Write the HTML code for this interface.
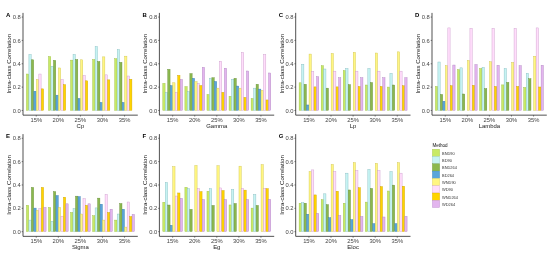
<!DOCTYPE html>
<html><head><meta charset="utf-8"><title>Intra-class Correlation</title>
<style>html,body{margin:0;padding:0;background:#fff}svg{display:block}text{font-family:"Liberation Sans",sans-serif}</style></head><body>
<svg width="550" height="254" viewBox="0 0 550 254">
<rect width="550" height="254" fill="#fff"/>
<g id="panelA">
<rect x="26.41" y="74.03" width="2.28" height="36.25" fill="#C8EA66" stroke="#9CBE44" stroke-width="0.42"/>
<rect x="28.90" y="54.53" width="2.28" height="55.75" fill="#C6F3F3" stroke="#84BCC0" stroke-width="0.42"/>
<rect x="31.38" y="59.79" width="2.28" height="50.49" fill="#8BB84E" stroke="#668F36" stroke-width="0.42"/>
<rect x="33.86" y="91.20" width="2.28" height="19.08" fill="#5AA6DA" stroke="#3A7EB2" stroke-width="0.42"/>
<rect x="36.35" y="79.52" width="2.28" height="30.76" fill="#FFF682" stroke="#CFC450" stroke-width="0.42"/>
<rect x="38.83" y="74.03" width="2.28" height="36.25" fill="#FFDDFB" stroke="#CC9CCB" stroke-width="0.42"/>
<rect x="41.31" y="88.86" width="2.28" height="21.42" fill="#FFD400" stroke="#CFA400" stroke-width="0.42"/>
<rect x="48.49" y="56.52" width="2.28" height="53.76" fill="#C8EA66" stroke="#9CBE44" stroke-width="0.42"/>
<rect x="50.97" y="66.21" width="2.28" height="44.07" fill="#C6F3F3" stroke="#84BCC0" stroke-width="0.42"/>
<rect x="53.46" y="60.37" width="2.28" height="49.91" fill="#8BB84E" stroke="#668F36" stroke-width="0.42"/>
<rect x="55.94" y="95.17" width="2.28" height="15.11" fill="#5AA6DA" stroke="#3A7EB2" stroke-width="0.42"/>
<rect x="58.42" y="67.96" width="2.28" height="42.32" fill="#FFF682" stroke="#CFC450" stroke-width="0.42"/>
<rect x="60.91" y="79.52" width="2.28" height="30.76" fill="#FFDDFB" stroke="#CC9CCB" stroke-width="0.42"/>
<rect x="63.39" y="84.66" width="2.28" height="25.62" fill="#FFD400" stroke="#CFA400" stroke-width="0.42"/>
<rect x="70.57" y="60.14" width="2.28" height="50.14" fill="#C8EA66" stroke="#9CBE44" stroke-width="0.42"/>
<rect x="73.05" y="54.53" width="2.28" height="55.75" fill="#C6F3F3" stroke="#84BCC0" stroke-width="0.42"/>
<rect x="75.53" y="59.55" width="2.28" height="50.72" fill="#8BB84E" stroke="#668F36" stroke-width="0.42"/>
<rect x="78.02" y="98.44" width="2.28" height="11.84" fill="#5AA6DA" stroke="#3A7EB2" stroke-width="0.42"/>
<rect x="80.50" y="59.79" width="2.28" height="50.49" fill="#FFF682" stroke="#CFC450" stroke-width="0.42"/>
<rect x="82.98" y="75.55" width="2.28" height="34.73" fill="#FFDDFB" stroke="#CC9CCB" stroke-width="0.42"/>
<rect x="85.47" y="80.81" width="2.28" height="29.47" fill="#FFD400" stroke="#CFA400" stroke-width="0.42"/>
<rect x="92.64" y="59.55" width="2.28" height="50.72" fill="#C8EA66" stroke="#9CBE44" stroke-width="0.42"/>
<rect x="95.13" y="46.59" width="2.28" height="63.69" fill="#C6F3F3" stroke="#84BCC0" stroke-width="0.42"/>
<rect x="97.61" y="61.54" width="2.28" height="48.74" fill="#8BB84E" stroke="#668F36" stroke-width="0.42"/>
<rect x="100.09" y="102.41" width="2.28" height="7.87" fill="#5AA6DA" stroke="#3A7EB2" stroke-width="0.42"/>
<rect x="102.58" y="56.87" width="2.28" height="53.41" fill="#FFF682" stroke="#CFC450" stroke-width="0.42"/>
<rect x="105.06" y="74.85" width="2.28" height="35.43" fill="#FFDDFB" stroke="#CC9CCB" stroke-width="0.42"/>
<rect x="107.54" y="79.87" width="2.28" height="30.41" fill="#FFD400" stroke="#CFA400" stroke-width="0.42"/>
<rect x="114.72" y="58.74" width="2.28" height="51.54" fill="#C8EA66" stroke="#9CBE44" stroke-width="0.42"/>
<rect x="117.20" y="49.63" width="2.28" height="60.65" fill="#C6F3F3" stroke="#84BCC0" stroke-width="0.42"/>
<rect x="119.69" y="62.36" width="2.28" height="47.92" fill="#8BB84E" stroke="#668F36" stroke-width="0.42"/>
<rect x="122.17" y="102.41" width="2.28" height="7.87" fill="#5AA6DA" stroke="#3A7EB2" stroke-width="0.42"/>
<rect x="124.65" y="56.17" width="2.28" height="54.11" fill="#FFF682" stroke="#CFC450" stroke-width="0.42"/>
<rect x="127.14" y="76.02" width="2.28" height="34.26" fill="#FFDDFB" stroke="#CC9CCB" stroke-width="0.42"/>
<rect x="129.62" y="79.29" width="2.28" height="30.99" fill="#FFD400" stroke="#CFA400" stroke-width="0.42"/>
<path d="M23.00 12.90V115.15H137.80" fill="none" stroke="#333" stroke-width="0.85" stroke-linejoin="miter"/>
<path d="M21.70 110.48H23.00M21.70 87.13H23.00M21.70 63.77H23.00M21.70 40.42H23.00M21.70 17.07H23.00M36.25 115.15V116.55M58.32 115.15V116.55M80.40 115.15V116.55M102.48 115.15V116.55M124.55 115.15V116.55" stroke="#333" stroke-width="0.6" fill="none"/>
<text x="20.80" y="112.57" font-size="5.8" text-anchor="end" fill="#444">0.0</text>
<text x="20.80" y="89.22" font-size="5.8" text-anchor="end" fill="#444">0.2</text>
<text x="20.80" y="65.86" font-size="5.8" text-anchor="end" fill="#444">0.4</text>
<text x="20.80" y="42.51" font-size="5.8" text-anchor="end" fill="#444">0.6</text>
<text x="20.80" y="19.16" font-size="5.8" text-anchor="end" fill="#444">0.8</text>
<text x="36.25" y="121.60" font-size="5.8" text-anchor="middle" fill="#444">15%</text>
<text x="58.32" y="121.60" font-size="5.8" text-anchor="middle" fill="#444">20%</text>
<text x="80.40" y="121.60" font-size="5.8" text-anchor="middle" fill="#444">25%</text>
<text x="102.48" y="121.60" font-size="5.8" text-anchor="middle" fill="#444">30%</text>
<text x="124.55" y="121.60" font-size="5.8" text-anchor="middle" fill="#444">35%</text>
<text x="80.40" y="127.85" font-size="5.95" text-anchor="middle" fill="#222">Cp</text>
<text transform="translate(10.85 63.78) rotate(-90)" font-size="6.1" text-anchor="middle" fill="#222">Intra-class Correlation</text>
<text x="6.10" y="16.60" font-size="6.0" font-weight="bold" fill="#000">A</text>
</g>
<g id="panelB">
<rect x="162.81" y="83.37" width="2.28" height="26.91" fill="#C8EA66" stroke="#9CBE44" stroke-width="0.42"/>
<rect x="165.30" y="92.48" width="2.28" height="17.80" fill="#C6F3F3" stroke="#84BCC0" stroke-width="0.42"/>
<rect x="167.78" y="69.36" width="2.28" height="40.92" fill="#8BB84E" stroke="#668F36" stroke-width="0.42"/>
<rect x="170.26" y="85.59" width="2.28" height="24.69" fill="#5AA6DA" stroke="#3A7EB2" stroke-width="0.42"/>
<rect x="172.75" y="82.79" width="2.28" height="27.49" fill="#FFF682" stroke="#CFC450" stroke-width="0.42"/>
<rect x="175.23" y="92.48" width="2.28" height="17.80" fill="#FFDDFB" stroke="#CC9CCB" stroke-width="0.42"/>
<rect x="177.71" y="75.38" width="2.28" height="34.90" fill="#FFD400" stroke="#CFA400" stroke-width="0.42"/>
<rect x="180.20" y="79.52" width="2.28" height="30.76" fill="#E3B5EF" stroke="#B084C0" stroke-width="0.42"/>
<rect x="184.89" y="86.64" width="2.28" height="23.64" fill="#C8EA66" stroke="#9CBE44" stroke-width="0.42"/>
<rect x="187.37" y="91.66" width="2.28" height="18.62" fill="#C6F3F3" stroke="#84BCC0" stroke-width="0.42"/>
<rect x="189.86" y="73.62" width="2.28" height="36.65" fill="#8BB84E" stroke="#668F36" stroke-width="0.42"/>
<rect x="192.34" y="78.35" width="2.28" height="31.93" fill="#5AA6DA" stroke="#3A7EB2" stroke-width="0.42"/>
<rect x="194.82" y="81.68" width="2.28" height="28.60" fill="#FFF682" stroke="#CFC450" stroke-width="0.42"/>
<rect x="197.31" y="83.37" width="2.28" height="26.91" fill="#FFDDFB" stroke="#CC9CCB" stroke-width="0.42"/>
<rect x="199.79" y="85.53" width="2.28" height="24.75" fill="#FFD400" stroke="#CFA400" stroke-width="0.42"/>
<rect x="202.27" y="67.38" width="2.28" height="42.90" fill="#E3B5EF" stroke="#B084C0" stroke-width="0.42"/>
<rect x="206.97" y="94.52" width="2.28" height="15.75" fill="#C8EA66" stroke="#9CBE44" stroke-width="0.42"/>
<rect x="209.45" y="78.18" width="2.28" height="32.10" fill="#C6F3F3" stroke="#84BCC0" stroke-width="0.42"/>
<rect x="211.93" y="77.77" width="2.28" height="32.51" fill="#8BB84E" stroke="#668F36" stroke-width="0.42"/>
<rect x="214.42" y="81.51" width="2.28" height="28.77" fill="#5AA6DA" stroke="#3A7EB2" stroke-width="0.42"/>
<rect x="216.90" y="88.16" width="2.28" height="22.12" fill="#FFF682" stroke="#CFC450" stroke-width="0.42"/>
<rect x="219.38" y="61.19" width="2.28" height="49.09" fill="#FFDDFB" stroke="#CC9CCB" stroke-width="0.42"/>
<rect x="221.87" y="92.36" width="2.28" height="17.91" fill="#FFD400" stroke="#CFA400" stroke-width="0.42"/>
<rect x="224.35" y="68.20" width="2.28" height="42.08" fill="#E3B5EF" stroke="#B084C0" stroke-width="0.42"/>
<rect x="229.04" y="96.28" width="2.28" height="14.00" fill="#C8EA66" stroke="#9CBE44" stroke-width="0.42"/>
<rect x="231.53" y="79.29" width="2.28" height="30.99" fill="#C6F3F3" stroke="#84BCC0" stroke-width="0.42"/>
<rect x="234.01" y="78.35" width="2.28" height="31.93" fill="#8BB84E" stroke="#668F36" stroke-width="0.42"/>
<rect x="236.49" y="86.06" width="2.28" height="24.22" fill="#5AA6DA" stroke="#3A7EB2" stroke-width="0.42"/>
<rect x="238.98" y="88.16" width="2.28" height="22.12" fill="#FFF682" stroke="#CFC450" stroke-width="0.42"/>
<rect x="241.46" y="52.48" width="2.28" height="57.80" fill="#FFDDFB" stroke="#CC9CCB" stroke-width="0.42"/>
<rect x="243.94" y="97.39" width="2.28" height="12.89" fill="#FFD400" stroke="#CFA400" stroke-width="0.42"/>
<rect x="246.43" y="71.00" width="2.28" height="39.28" fill="#E3B5EF" stroke="#B084C0" stroke-width="0.42"/>
<rect x="251.12" y="98.48" width="2.28" height="11.80" fill="#C8EA66" stroke="#9CBE44" stroke-width="0.42"/>
<rect x="253.60" y="88.16" width="2.28" height="22.12" fill="#C6F3F3" stroke="#84BCC0" stroke-width="0.42"/>
<rect x="256.09" y="84.31" width="2.28" height="25.97" fill="#8BB84E" stroke="#668F36" stroke-width="0.42"/>
<rect x="258.57" y="89.10" width="2.28" height="21.18" fill="#5AA6DA" stroke="#3A7EB2" stroke-width="0.42"/>
<rect x="261.05" y="90.38" width="2.28" height="19.90" fill="#FFF682" stroke="#CFC450" stroke-width="0.42"/>
<rect x="263.54" y="54.65" width="2.28" height="55.63" fill="#FFDDFB" stroke="#CC9CCB" stroke-width="0.42"/>
<rect x="266.02" y="99.95" width="2.28" height="10.33" fill="#FFD400" stroke="#CFA400" stroke-width="0.42"/>
<rect x="268.50" y="72.98" width="2.28" height="37.30" fill="#E3B5EF" stroke="#B084C0" stroke-width="0.42"/>
<path d="M159.40 12.90V115.15H274.20" fill="none" stroke="#333" stroke-width="0.85" stroke-linejoin="miter"/>
<path d="M158.10 110.48H159.40M158.10 87.13H159.40M158.10 63.77H159.40M158.10 40.42H159.40M158.10 17.07H159.40M172.65 115.15V116.55M194.72 115.15V116.55M216.80 115.15V116.55M238.88 115.15V116.55M260.95 115.15V116.55" stroke="#333" stroke-width="0.6" fill="none"/>
<text x="157.20" y="112.57" font-size="5.8" text-anchor="end" fill="#444">0.0</text>
<text x="157.20" y="89.22" font-size="5.8" text-anchor="end" fill="#444">0.2</text>
<text x="157.20" y="65.86" font-size="5.8" text-anchor="end" fill="#444">0.4</text>
<text x="157.20" y="42.51" font-size="5.8" text-anchor="end" fill="#444">0.6</text>
<text x="157.20" y="19.16" font-size="5.8" text-anchor="end" fill="#444">0.8</text>
<text x="172.65" y="121.60" font-size="5.8" text-anchor="middle" fill="#444">15%</text>
<text x="194.72" y="121.60" font-size="5.8" text-anchor="middle" fill="#444">20%</text>
<text x="216.80" y="121.60" font-size="5.8" text-anchor="middle" fill="#444">25%</text>
<text x="238.88" y="121.60" font-size="5.8" text-anchor="middle" fill="#444">30%</text>
<text x="260.95" y="121.60" font-size="5.8" text-anchor="middle" fill="#444">35%</text>
<text x="216.80" y="127.85" font-size="5.95" text-anchor="middle" fill="#222">Gamma</text>
<text transform="translate(147.25 63.78) rotate(-90)" font-size="6.1" text-anchor="middle" fill="#222">Intra-class Correlation</text>
<text x="142.50" y="16.60" font-size="6.0" font-weight="bold" fill="#000">B</text>
</g>
<g id="panelC">
<rect x="299.11" y="82.79" width="2.28" height="27.49" fill="#C8EA66" stroke="#9CBE44" stroke-width="0.42"/>
<rect x="301.60" y="64.23" width="2.28" height="46.05" fill="#C6F3F3" stroke="#84BCC0" stroke-width="0.42"/>
<rect x="304.08" y="84.31" width="2.28" height="25.97" fill="#8BB84E" stroke="#668F36" stroke-width="0.42"/>
<rect x="306.56" y="104.97" width="2.28" height="5.30" fill="#5AA6DA" stroke="#3A7EB2" stroke-width="0.42"/>
<rect x="309.05" y="54.07" width="2.28" height="56.21" fill="#FFF682" stroke="#CFC450" stroke-width="0.42"/>
<rect x="311.53" y="71.58" width="2.28" height="38.70" fill="#FFDDFB" stroke="#CC9CCB" stroke-width="0.42"/>
<rect x="314.01" y="86.88" width="2.28" height="23.40" fill="#FFD400" stroke="#CFA400" stroke-width="0.42"/>
<rect x="316.50" y="76.72" width="2.28" height="33.56" fill="#E3B5EF" stroke="#B084C0" stroke-width="0.42"/>
<rect x="321.19" y="65.74" width="2.28" height="44.54" fill="#C8EA66" stroke="#9CBE44" stroke-width="0.42"/>
<rect x="323.67" y="69.01" width="2.28" height="41.27" fill="#C6F3F3" stroke="#84BCC0" stroke-width="0.42"/>
<rect x="326.16" y="88.16" width="2.28" height="22.12" fill="#8BB84E" stroke="#668F36" stroke-width="0.42"/>
<rect x="331.12" y="53.48" width="2.28" height="56.80" fill="#FFF682" stroke="#CFC450" stroke-width="0.42"/>
<rect x="333.61" y="71.17" width="2.28" height="39.11" fill="#FFDDFB" stroke="#CC9CCB" stroke-width="0.42"/>
<rect x="336.09" y="86.88" width="2.28" height="23.40" fill="#FFD400" stroke="#CFA400" stroke-width="0.42"/>
<rect x="338.57" y="77.77" width="2.28" height="32.51" fill="#E3B5EF" stroke="#B084C0" stroke-width="0.42"/>
<rect x="343.27" y="70.58" width="2.28" height="39.70" fill="#C8EA66" stroke="#9CBE44" stroke-width="0.42"/>
<rect x="345.75" y="68.55" width="2.28" height="41.73" fill="#C6F3F3" stroke="#84BCC0" stroke-width="0.42"/>
<rect x="348.23" y="84.66" width="2.28" height="25.62" fill="#8BB84E" stroke="#668F36" stroke-width="0.42"/>
<rect x="353.20" y="52.37" width="2.28" height="57.91" fill="#FFF682" stroke="#CFC450" stroke-width="0.42"/>
<rect x="355.68" y="71.17" width="2.28" height="39.11" fill="#FFDDFB" stroke="#CC9CCB" stroke-width="0.42"/>
<rect x="358.17" y="86.48" width="2.28" height="23.80" fill="#FFD400" stroke="#CFA400" stroke-width="0.42"/>
<rect x="360.65" y="77.77" width="2.28" height="32.51" fill="#E3B5EF" stroke="#B084C0" stroke-width="0.42"/>
<rect x="365.34" y="85.01" width="2.28" height="25.27" fill="#C8EA66" stroke="#9CBE44" stroke-width="0.42"/>
<rect x="367.83" y="68.55" width="2.28" height="41.73" fill="#C6F3F3" stroke="#84BCC0" stroke-width="0.42"/>
<rect x="370.31" y="82.56" width="2.28" height="27.72" fill="#8BB84E" stroke="#668F36" stroke-width="0.42"/>
<rect x="375.28" y="53.02" width="2.28" height="57.26" fill="#FFF682" stroke="#CFC450" stroke-width="0.42"/>
<rect x="377.76" y="71.17" width="2.28" height="39.11" fill="#FFDDFB" stroke="#CC9CCB" stroke-width="0.42"/>
<rect x="380.24" y="86.48" width="2.28" height="23.80" fill="#FFD400" stroke="#CFA400" stroke-width="0.42"/>
<rect x="382.73" y="77.77" width="2.28" height="32.51" fill="#E3B5EF" stroke="#B084C0" stroke-width="0.42"/>
<rect x="387.42" y="87.08" width="2.28" height="23.20" fill="#C8EA66" stroke="#9CBE44" stroke-width="0.42"/>
<rect x="389.90" y="73.38" width="2.28" height="36.90" fill="#C6F3F3" stroke="#84BCC0" stroke-width="0.42"/>
<rect x="392.39" y="85.01" width="2.28" height="25.27" fill="#8BB84E" stroke="#668F36" stroke-width="0.42"/>
<rect x="397.35" y="51.85" width="2.28" height="58.43" fill="#FFF682" stroke="#CFC450" stroke-width="0.42"/>
<rect x="399.84" y="71.17" width="2.28" height="39.11" fill="#FFDDFB" stroke="#CC9CCB" stroke-width="0.42"/>
<rect x="402.32" y="85.78" width="2.28" height="24.50" fill="#FFD400" stroke="#CFA400" stroke-width="0.42"/>
<rect x="404.80" y="77.77" width="2.28" height="32.51" fill="#E3B5EF" stroke="#B084C0" stroke-width="0.42"/>
<path d="M295.70 12.90V115.15H410.50" fill="none" stroke="#333" stroke-width="0.85" stroke-linejoin="miter"/>
<path d="M294.40 110.48H295.70M294.40 87.13H295.70M294.40 63.77H295.70M294.40 40.42H295.70M294.40 17.07H295.70M308.95 115.15V116.55M331.02 115.15V116.55M353.10 115.15V116.55M375.18 115.15V116.55M397.25 115.15V116.55" stroke="#333" stroke-width="0.6" fill="none"/>
<text x="293.50" y="112.57" font-size="5.8" text-anchor="end" fill="#444">0.0</text>
<text x="293.50" y="89.22" font-size="5.8" text-anchor="end" fill="#444">0.2</text>
<text x="293.50" y="65.86" font-size="5.8" text-anchor="end" fill="#444">0.4</text>
<text x="293.50" y="42.51" font-size="5.8" text-anchor="end" fill="#444">0.6</text>
<text x="293.50" y="19.16" font-size="5.8" text-anchor="end" fill="#444">0.8</text>
<text x="308.95" y="121.60" font-size="5.8" text-anchor="middle" fill="#444">15%</text>
<text x="331.02" y="121.60" font-size="5.8" text-anchor="middle" fill="#444">20%</text>
<text x="353.10" y="121.60" font-size="5.8" text-anchor="middle" fill="#444">25%</text>
<text x="375.18" y="121.60" font-size="5.8" text-anchor="middle" fill="#444">30%</text>
<text x="397.25" y="121.60" font-size="5.8" text-anchor="middle" fill="#444">35%</text>
<text x="353.10" y="127.85" font-size="5.95" text-anchor="middle" fill="#222">Lp</text>
<text transform="translate(283.55 63.78) rotate(-90)" font-size="6.1" text-anchor="middle" fill="#222">Intra-class Correlation</text>
<text x="278.80" y="16.60" font-size="6.0" font-weight="bold" fill="#000">C</text>
</g>
<g id="panelD">
<rect x="435.41" y="86.41" width="2.28" height="23.87" fill="#C8EA66" stroke="#9CBE44" stroke-width="0.42"/>
<rect x="437.90" y="62.01" width="2.28" height="48.27" fill="#C6F3F3" stroke="#84BCC0" stroke-width="0.42"/>
<rect x="440.38" y="94.47" width="2.28" height="15.81" fill="#8BB84E" stroke="#668F36" stroke-width="0.42"/>
<rect x="442.86" y="101.24" width="2.28" height="9.04" fill="#5AA6DA" stroke="#3A7EB2" stroke-width="0.42"/>
<rect x="445.35" y="65.68" width="2.28" height="44.59" fill="#FFF682" stroke="#CFC450" stroke-width="0.42"/>
<rect x="447.83" y="27.91" width="2.28" height="82.37" fill="#FFDDFB" stroke="#CC9CCB" stroke-width="0.42"/>
<rect x="450.31" y="85.71" width="2.28" height="24.57" fill="#FFD400" stroke="#CFA400" stroke-width="0.42"/>
<rect x="452.80" y="65.04" width="2.28" height="45.24" fill="#E3B5EF" stroke="#B084C0" stroke-width="0.42"/>
<rect x="457.49" y="69.60" width="2.28" height="40.68" fill="#C8EA66" stroke="#9CBE44" stroke-width="0.42"/>
<rect x="459.97" y="67.84" width="2.28" height="42.43" fill="#C6F3F3" stroke="#84BCC0" stroke-width="0.42"/>
<rect x="462.46" y="94.00" width="2.28" height="16.28" fill="#8BB84E" stroke="#668F36" stroke-width="0.42"/>
<rect x="467.42" y="60.44" width="2.28" height="49.84" fill="#FFF682" stroke="#CFC450" stroke-width="0.42"/>
<rect x="469.91" y="28.38" width="2.28" height="81.90" fill="#FFDDFB" stroke="#CC9CCB" stroke-width="0.42"/>
<rect x="472.39" y="85.31" width="2.28" height="24.97" fill="#FFD400" stroke="#CFA400" stroke-width="0.42"/>
<rect x="474.87" y="64.63" width="2.28" height="45.65" fill="#E3B5EF" stroke="#B084C0" stroke-width="0.42"/>
<rect x="479.57" y="68.55" width="2.28" height="41.73" fill="#C8EA66" stroke="#9CBE44" stroke-width="0.42"/>
<rect x="482.05" y="67.44" width="2.28" height="42.84" fill="#C6F3F3" stroke="#84BCC0" stroke-width="0.42"/>
<rect x="484.53" y="88.63" width="2.28" height="21.65" fill="#8BB84E" stroke="#668F36" stroke-width="0.42"/>
<rect x="489.50" y="61.77" width="2.28" height="48.51" fill="#FFF682" stroke="#CFC450" stroke-width="0.42"/>
<rect x="491.98" y="28.38" width="2.28" height="81.90" fill="#FFDDFB" stroke="#CC9CCB" stroke-width="0.42"/>
<rect x="494.47" y="86.41" width="2.28" height="23.87" fill="#FFD400" stroke="#CFA400" stroke-width="0.42"/>
<rect x="496.95" y="65.28" width="2.28" height="45.00" fill="#E3B5EF" stroke="#B084C0" stroke-width="0.42"/>
<rect x="501.64" y="84.89" width="2.28" height="25.39" fill="#C8EA66" stroke="#9CBE44" stroke-width="0.42"/>
<rect x="504.13" y="68.55" width="2.28" height="41.73" fill="#C6F3F3" stroke="#84BCC0" stroke-width="0.42"/>
<rect x="506.61" y="82.44" width="2.28" height="27.84" fill="#8BB84E" stroke="#668F36" stroke-width="0.42"/>
<rect x="511.58" y="62.47" width="2.28" height="47.81" fill="#FFF682" stroke="#CFC450" stroke-width="0.42"/>
<rect x="514.06" y="28.38" width="2.28" height="81.90" fill="#FFDDFB" stroke="#CC9CCB" stroke-width="0.42"/>
<rect x="516.54" y="86.41" width="2.28" height="23.87" fill="#FFD400" stroke="#CFA400" stroke-width="0.42"/>
<rect x="519.03" y="65.68" width="2.28" height="44.59" fill="#E3B5EF" stroke="#B084C0" stroke-width="0.42"/>
<rect x="523.72" y="87.51" width="2.28" height="22.77" fill="#C8EA66" stroke="#9CBE44" stroke-width="0.42"/>
<rect x="526.20" y="73.33" width="2.28" height="36.95" fill="#C6F3F3" stroke="#84BCC0" stroke-width="0.42"/>
<rect x="528.69" y="78.77" width="2.28" height="31.51" fill="#8BB84E" stroke="#668F36" stroke-width="0.42"/>
<rect x="533.65" y="56.29" width="2.28" height="53.99" fill="#FFF682" stroke="#CFC450" stroke-width="0.42"/>
<rect x="536.14" y="27.91" width="2.28" height="82.37" fill="#FFDDFB" stroke="#CC9CCB" stroke-width="0.42"/>
<rect x="538.62" y="86.99" width="2.28" height="23.29" fill="#FFD400" stroke="#CFA400" stroke-width="0.42"/>
<rect x="541.10" y="65.28" width="2.28" height="45.00" fill="#E3B5EF" stroke="#B084C0" stroke-width="0.42"/>
<path d="M432.00 12.90V115.15H546.80" fill="none" stroke="#333" stroke-width="0.85" stroke-linejoin="miter"/>
<path d="M430.70 110.48H432.00M430.70 87.13H432.00M430.70 63.77H432.00M430.70 40.42H432.00M430.70 17.07H432.00M445.25 115.15V116.55M467.32 115.15V116.55M489.40 115.15V116.55M511.48 115.15V116.55M533.55 115.15V116.55" stroke="#333" stroke-width="0.6" fill="none"/>
<text x="429.80" y="112.57" font-size="5.8" text-anchor="end" fill="#444">0.0</text>
<text x="429.80" y="89.22" font-size="5.8" text-anchor="end" fill="#444">0.2</text>
<text x="429.80" y="65.86" font-size="5.8" text-anchor="end" fill="#444">0.4</text>
<text x="429.80" y="42.51" font-size="5.8" text-anchor="end" fill="#444">0.6</text>
<text x="429.80" y="19.16" font-size="5.8" text-anchor="end" fill="#444">0.8</text>
<text x="445.25" y="121.60" font-size="5.8" text-anchor="middle" fill="#444">15%</text>
<text x="467.32" y="121.60" font-size="5.8" text-anchor="middle" fill="#444">20%</text>
<text x="489.40" y="121.60" font-size="5.8" text-anchor="middle" fill="#444">25%</text>
<text x="511.48" y="121.60" font-size="5.8" text-anchor="middle" fill="#444">30%</text>
<text x="533.55" y="121.60" font-size="5.8" text-anchor="middle" fill="#444">35%</text>
<text x="489.40" y="127.85" font-size="5.95" text-anchor="middle" fill="#222">Lambda</text>
<text transform="translate(419.85 63.78) rotate(-90)" font-size="6.1" text-anchor="middle" fill="#222">Intra-class Correlation</text>
<text x="415.10" y="16.60" font-size="6.0" font-weight="bold" fill="#000">D</text>
</g>
<g id="panelE">
<rect x="26.41" y="205.31" width="2.28" height="26.17" fill="#C8EA66" stroke="#9CBE44" stroke-width="0.42"/>
<rect x="28.90" y="220.10" width="2.28" height="11.38" fill="#C6F3F3" stroke="#84BCC0" stroke-width="0.42"/>
<rect x="31.38" y="187.41" width="2.28" height="44.07" fill="#8BB84E" stroke="#668F36" stroke-width="0.42"/>
<rect x="33.86" y="208.11" width="2.28" height="23.37" fill="#5AA6DA" stroke="#3A7EB2" stroke-width="0.42"/>
<rect x="36.35" y="210.30" width="2.28" height="21.18" fill="#FFF682" stroke="#CFC450" stroke-width="0.42"/>
<rect x="38.83" y="208.66" width="2.28" height="22.82" fill="#FFDDFB" stroke="#CC9CCB" stroke-width="0.42"/>
<rect x="41.31" y="187.41" width="2.28" height="44.07" fill="#FFD400" stroke="#CFA400" stroke-width="0.42"/>
<rect x="43.80" y="207.49" width="2.28" height="23.99" fill="#E3B5EF" stroke="#B084C0" stroke-width="0.42"/>
<rect x="48.49" y="207.49" width="2.28" height="23.99" fill="#C8EA66" stroke="#9CBE44" stroke-width="0.42"/>
<rect x="50.97" y="221.19" width="2.28" height="10.29" fill="#C6F3F3" stroke="#84BCC0" stroke-width="0.42"/>
<rect x="53.46" y="191.61" width="2.28" height="39.87" fill="#8BB84E" stroke="#668F36" stroke-width="0.42"/>
<rect x="55.94" y="195.53" width="2.28" height="35.95" fill="#5AA6DA" stroke="#3A7EB2" stroke-width="0.42"/>
<rect x="58.42" y="207.49" width="2.28" height="23.99" fill="#FFF682" stroke="#CFC450" stroke-width="0.42"/>
<rect x="60.91" y="216.20" width="2.28" height="15.28" fill="#FFDDFB" stroke="#CC9CCB" stroke-width="0.42"/>
<rect x="63.39" y="197.22" width="2.28" height="34.26" fill="#FFD400" stroke="#CFA400" stroke-width="0.42"/>
<rect x="65.87" y="203.82" width="2.28" height="27.66" fill="#E3B5EF" stroke="#B084C0" stroke-width="0.42"/>
<rect x="70.57" y="212.51" width="2.28" height="18.97" fill="#C8EA66" stroke="#9CBE44" stroke-width="0.42"/>
<rect x="73.05" y="208.66" width="2.28" height="22.82" fill="#C6F3F3" stroke="#84BCC0" stroke-width="0.42"/>
<rect x="75.53" y="196.17" width="2.28" height="35.31" fill="#8BB84E" stroke="#668F36" stroke-width="0.42"/>
<rect x="78.02" y="196.63" width="2.28" height="34.85" fill="#5AA6DA" stroke="#3A7EB2" stroke-width="0.42"/>
<rect x="80.50" y="214.03" width="2.28" height="17.45" fill="#FFF682" stroke="#CFC450" stroke-width="0.42"/>
<rect x="82.98" y="198.77" width="2.28" height="32.71" fill="#FFDDFB" stroke="#CC9CCB" stroke-width="0.42"/>
<rect x="85.47" y="205.31" width="2.28" height="26.17" fill="#FFD400" stroke="#CFA400" stroke-width="0.42"/>
<rect x="87.95" y="203.82" width="2.28" height="27.66" fill="#E3B5EF" stroke="#B084C0" stroke-width="0.42"/>
<rect x="92.64" y="215.78" width="2.28" height="15.70" fill="#C8EA66" stroke="#9CBE44" stroke-width="0.42"/>
<rect x="95.13" y="207.91" width="2.28" height="23.57" fill="#C6F3F3" stroke="#84BCC0" stroke-width="0.42"/>
<rect x="97.61" y="198.15" width="2.28" height="33.33" fill="#8BB84E" stroke="#668F36" stroke-width="0.42"/>
<rect x="100.09" y="204.22" width="2.28" height="27.26" fill="#5AA6DA" stroke="#3A7EB2" stroke-width="0.42"/>
<rect x="102.58" y="220.10" width="2.28" height="11.38" fill="#FFF682" stroke="#CFC450" stroke-width="0.42"/>
<rect x="105.06" y="194.42" width="2.28" height="37.06" fill="#FFDDFB" stroke="#CC9CCB" stroke-width="0.42"/>
<rect x="107.54" y="212.51" width="2.28" height="18.97" fill="#FFD400" stroke="#CFA400" stroke-width="0.42"/>
<rect x="110.03" y="209.24" width="2.28" height="22.23" fill="#E3B5EF" stroke="#B084C0" stroke-width="0.42"/>
<rect x="114.72" y="220.10" width="2.28" height="11.38" fill="#C8EA66" stroke="#9CBE44" stroke-width="0.42"/>
<rect x="117.20" y="214.03" width="2.28" height="17.45" fill="#C6F3F3" stroke="#84BCC0" stroke-width="0.42"/>
<rect x="119.69" y="203.56" width="2.28" height="27.92" fill="#8BB84E" stroke="#668F36" stroke-width="0.42"/>
<rect x="122.17" y="209.24" width="2.28" height="22.23" fill="#5AA6DA" stroke="#3A7EB2" stroke-width="0.42"/>
<rect x="124.65" y="227.11" width="2.28" height="4.37" fill="#FFF682" stroke="#CFC450" stroke-width="0.42"/>
<rect x="127.14" y="202.01" width="2.28" height="29.47" fill="#FFDDFB" stroke="#CC9CCB" stroke-width="0.42"/>
<rect x="129.62" y="216.60" width="2.28" height="14.88" fill="#FFD400" stroke="#CFA400" stroke-width="0.42"/>
<rect x="132.10" y="214.50" width="2.28" height="16.98" fill="#E3B5EF" stroke="#B084C0" stroke-width="0.42"/>
<path d="M23.00 134.10V236.35H137.80" fill="none" stroke="#333" stroke-width="0.85" stroke-linejoin="miter"/>
<path d="M21.70 231.68H23.00M21.70 208.33H23.00M21.70 184.97H23.00M21.70 161.62H23.00M21.70 138.27H23.00M36.25 236.35V237.75M58.32 236.35V237.75M80.40 236.35V237.75M102.48 236.35V237.75M124.55 236.35V237.75" stroke="#333" stroke-width="0.6" fill="none"/>
<text x="20.80" y="233.77" font-size="5.8" text-anchor="end" fill="#444">0.0</text>
<text x="20.80" y="210.42" font-size="5.8" text-anchor="end" fill="#444">0.2</text>
<text x="20.80" y="187.06" font-size="5.8" text-anchor="end" fill="#444">0.4</text>
<text x="20.80" y="163.71" font-size="5.8" text-anchor="end" fill="#444">0.6</text>
<text x="20.80" y="140.36" font-size="5.8" text-anchor="end" fill="#444">0.8</text>
<text x="36.25" y="242.80" font-size="5.8" text-anchor="middle" fill="#444">15%</text>
<text x="58.32" y="242.80" font-size="5.8" text-anchor="middle" fill="#444">20%</text>
<text x="80.40" y="242.80" font-size="5.8" text-anchor="middle" fill="#444">25%</text>
<text x="102.48" y="242.80" font-size="5.8" text-anchor="middle" fill="#444">30%</text>
<text x="124.55" y="242.80" font-size="5.8" text-anchor="middle" fill="#444">35%</text>
<text x="80.40" y="249.05" font-size="5.95" text-anchor="middle" fill="#222">Sigma</text>
<text transform="translate(10.85 184.97) rotate(-90)" font-size="6.1" text-anchor="middle" fill="#222">Intra-class Correlation</text>
<text x="6.10" y="137.80" font-size="6.0" font-weight="bold" fill="#000">E</text>
</g>
<g id="panelF">
<rect x="162.81" y="202.24" width="2.28" height="29.24" fill="#C8EA66" stroke="#9CBE44" stroke-width="0.42"/>
<rect x="165.30" y="182.54" width="2.28" height="48.94" fill="#C6F3F3" stroke="#84BCC0" stroke-width="0.42"/>
<rect x="167.78" y="205.04" width="2.28" height="26.44" fill="#8BB84E" stroke="#668F36" stroke-width="0.42"/>
<rect x="170.26" y="225.29" width="2.28" height="6.19" fill="#5AA6DA" stroke="#3A7EB2" stroke-width="0.42"/>
<rect x="172.75" y="166.63" width="2.28" height="64.85" fill="#FFF682" stroke="#CFC450" stroke-width="0.42"/>
<rect x="175.23" y="196.05" width="2.28" height="35.43" fill="#FFDDFB" stroke="#CC9CCB" stroke-width="0.42"/>
<rect x="177.71" y="192.98" width="2.28" height="38.50" fill="#FFD400" stroke="#CFA400" stroke-width="0.42"/>
<rect x="180.20" y="198.42" width="2.28" height="33.06" fill="#E3B5EF" stroke="#B084C0" stroke-width="0.42"/>
<rect x="184.89" y="187.33" width="2.28" height="44.15" fill="#C8EA66" stroke="#9CBE44" stroke-width="0.42"/>
<rect x="187.37" y="188.64" width="2.28" height="42.84" fill="#C6F3F3" stroke="#84BCC0" stroke-width="0.42"/>
<rect x="189.86" y="209.41" width="2.28" height="22.07" fill="#8BB84E" stroke="#668F36" stroke-width="0.42"/>
<rect x="194.82" y="165.51" width="2.28" height="65.97" fill="#FFF682" stroke="#CFC450" stroke-width="0.42"/>
<rect x="197.31" y="188.64" width="2.28" height="42.84" fill="#FFDDFB" stroke="#CC9CCB" stroke-width="0.42"/>
<rect x="199.79" y="191.61" width="2.28" height="39.87" fill="#FFD400" stroke="#CFA400" stroke-width="0.42"/>
<rect x="202.27" y="199.52" width="2.28" height="31.96" fill="#E3B5EF" stroke="#B084C0" stroke-width="0.42"/>
<rect x="206.97" y="191.26" width="2.28" height="40.22" fill="#C8EA66" stroke="#9CBE44" stroke-width="0.42"/>
<rect x="209.45" y="188.64" width="2.28" height="42.84" fill="#C6F3F3" stroke="#84BCC0" stroke-width="0.42"/>
<rect x="211.93" y="205.46" width="2.28" height="26.02" fill="#8BB84E" stroke="#668F36" stroke-width="0.42"/>
<rect x="216.90" y="165.76" width="2.28" height="65.72" fill="#FFF682" stroke="#CFC450" stroke-width="0.42"/>
<rect x="219.38" y="187.94" width="2.28" height="43.54" fill="#FFDDFB" stroke="#CC9CCB" stroke-width="0.42"/>
<rect x="221.87" y="190.56" width="2.28" height="40.92" fill="#FFD400" stroke="#CFA400" stroke-width="0.42"/>
<rect x="224.35" y="199.52" width="2.28" height="31.96" fill="#E3B5EF" stroke="#B084C0" stroke-width="0.42"/>
<rect x="229.04" y="204.96" width="2.28" height="26.52" fill="#C8EA66" stroke="#9CBE44" stroke-width="0.42"/>
<rect x="231.53" y="189.48" width="2.28" height="42.00" fill="#C6F3F3" stroke="#84BCC0" stroke-width="0.42"/>
<rect x="234.01" y="203.52" width="2.28" height="27.96" fill="#8BB84E" stroke="#668F36" stroke-width="0.42"/>
<rect x="238.98" y="166.16" width="2.28" height="65.32" fill="#FFF682" stroke="#CFC450" stroke-width="0.42"/>
<rect x="241.46" y="188.46" width="2.28" height="43.02" fill="#FFDDFB" stroke="#CC9CCB" stroke-width="0.42"/>
<rect x="243.94" y="190.13" width="2.28" height="41.35" fill="#FFD400" stroke="#CFA400" stroke-width="0.42"/>
<rect x="246.43" y="199.52" width="2.28" height="31.96" fill="#E3B5EF" stroke="#B084C0" stroke-width="0.42"/>
<rect x="251.12" y="208.12" width="2.28" height="23.36" fill="#C8EA66" stroke="#9CBE44" stroke-width="0.42"/>
<rect x="253.60" y="194.53" width="2.28" height="36.95" fill="#C6F3F3" stroke="#84BCC0" stroke-width="0.42"/>
<rect x="256.09" y="205.46" width="2.28" height="26.02" fill="#8BB84E" stroke="#668F36" stroke-width="0.42"/>
<rect x="261.05" y="164.64" width="2.28" height="66.84" fill="#FFF682" stroke="#CFC450" stroke-width="0.42"/>
<rect x="263.54" y="188.46" width="2.28" height="43.02" fill="#FFDDFB" stroke="#CC9CCB" stroke-width="0.42"/>
<rect x="266.02" y="188.64" width="2.28" height="42.84" fill="#FFD400" stroke="#CFA400" stroke-width="0.42"/>
<rect x="268.50" y="199.32" width="2.28" height="32.16" fill="#E3B5EF" stroke="#B084C0" stroke-width="0.42"/>
<path d="M159.40 134.10V236.35H274.20" fill="none" stroke="#333" stroke-width="0.85" stroke-linejoin="miter"/>
<path d="M158.10 231.68H159.40M158.10 208.33H159.40M158.10 184.97H159.40M158.10 161.62H159.40M158.10 138.27H159.40M172.65 236.35V237.75M194.72 236.35V237.75M216.80 236.35V237.75M238.88 236.35V237.75M260.95 236.35V237.75" stroke="#333" stroke-width="0.6" fill="none"/>
<text x="157.20" y="233.77" font-size="5.8" text-anchor="end" fill="#444">0.0</text>
<text x="157.20" y="210.42" font-size="5.8" text-anchor="end" fill="#444">0.2</text>
<text x="157.20" y="187.06" font-size="5.8" text-anchor="end" fill="#444">0.4</text>
<text x="157.20" y="163.71" font-size="5.8" text-anchor="end" fill="#444">0.6</text>
<text x="157.20" y="140.36" font-size="5.8" text-anchor="end" fill="#444">0.8</text>
<text x="172.65" y="242.80" font-size="5.8" text-anchor="middle" fill="#444">15%</text>
<text x="194.72" y="242.80" font-size="5.8" text-anchor="middle" fill="#444">20%</text>
<text x="216.80" y="242.80" font-size="5.8" text-anchor="middle" fill="#444">25%</text>
<text x="238.88" y="242.80" font-size="5.8" text-anchor="middle" fill="#444">30%</text>
<text x="260.95" y="242.80" font-size="5.8" text-anchor="middle" fill="#444">35%</text>
<text x="216.80" y="249.05" font-size="5.95" text-anchor="middle" fill="#222">Eg</text>
<text transform="translate(147.25 184.97) rotate(-90)" font-size="6.1" text-anchor="middle" fill="#222">Intra-class Correlation</text>
<text x="142.50" y="137.80" font-size="6.0" font-weight="bold" fill="#000">F</text>
</g>
<g id="panelG">
<rect x="299.11" y="203.21" width="2.28" height="28.27" fill="#C8EA66" stroke="#9CBE44" stroke-width="0.42"/>
<rect x="301.60" y="202.59" width="2.28" height="28.89" fill="#C6F3F3" stroke="#84BCC0" stroke-width="0.42"/>
<rect x="304.08" y="203.21" width="2.28" height="28.27" fill="#8BB84E" stroke="#668F36" stroke-width="0.42"/>
<rect x="306.56" y="214.21" width="2.28" height="17.27" fill="#5AA6DA" stroke="#3A7EB2" stroke-width="0.42"/>
<rect x="309.05" y="171.65" width="2.28" height="59.83" fill="#FFF682" stroke="#CFC450" stroke-width="0.42"/>
<rect x="311.53" y="169.90" width="2.28" height="61.58" fill="#FFDDFB" stroke="#CC9CCB" stroke-width="0.42"/>
<rect x="314.01" y="194.92" width="2.28" height="36.56" fill="#FFD400" stroke="#CFA400" stroke-width="0.42"/>
<rect x="316.50" y="213.33" width="2.28" height="18.15" fill="#E3B5EF" stroke="#B084C0" stroke-width="0.42"/>
<rect x="321.19" y="199.72" width="2.28" height="31.76" fill="#C8EA66" stroke="#9CBE44" stroke-width="0.42"/>
<rect x="323.67" y="193.83" width="2.28" height="37.65" fill="#C6F3F3" stroke="#84BCC0" stroke-width="0.42"/>
<rect x="326.16" y="204.69" width="2.28" height="26.79" fill="#8BB84E" stroke="#668F36" stroke-width="0.42"/>
<rect x="328.64" y="217.70" width="2.28" height="13.78" fill="#5AA6DA" stroke="#3A7EB2" stroke-width="0.42"/>
<rect x="331.12" y="164.45" width="2.28" height="67.02" fill="#FFF682" stroke="#CFC450" stroke-width="0.42"/>
<rect x="333.61" y="171.65" width="2.28" height="59.83" fill="#FFDDFB" stroke="#CC9CCB" stroke-width="0.42"/>
<rect x="336.09" y="191.26" width="2.28" height="40.22" fill="#FFD400" stroke="#CFA400" stroke-width="0.42"/>
<rect x="338.57" y="215.55" width="2.28" height="15.93" fill="#E3B5EF" stroke="#B084C0" stroke-width="0.42"/>
<rect x="343.27" y="203.21" width="2.28" height="28.27" fill="#C8EA66" stroke="#9CBE44" stroke-width="0.42"/>
<rect x="345.75" y="173.17" width="2.28" height="58.31" fill="#C6F3F3" stroke="#84BCC0" stroke-width="0.42"/>
<rect x="348.23" y="189.98" width="2.28" height="41.50" fill="#8BB84E" stroke="#668F36" stroke-width="0.42"/>
<rect x="350.72" y="219.64" width="2.28" height="11.84" fill="#5AA6DA" stroke="#3A7EB2" stroke-width="0.42"/>
<rect x="353.20" y="162.66" width="2.28" height="68.82" fill="#FFF682" stroke="#CFC450" stroke-width="0.42"/>
<rect x="355.68" y="170.55" width="2.28" height="60.93" fill="#FFDDFB" stroke="#CC9CCB" stroke-width="0.42"/>
<rect x="358.17" y="187.76" width="2.28" height="43.72" fill="#FFD400" stroke="#CFA400" stroke-width="0.42"/>
<rect x="360.65" y="216.60" width="2.28" height="14.88" fill="#E3B5EF" stroke="#B084C0" stroke-width="0.42"/>
<rect x="365.34" y="202.12" width="2.28" height="29.36" fill="#C8EA66" stroke="#9CBE44" stroke-width="0.42"/>
<rect x="367.83" y="169.43" width="2.28" height="62.05" fill="#C6F3F3" stroke="#84BCC0" stroke-width="0.42"/>
<rect x="370.31" y="188.46" width="2.28" height="43.02" fill="#8BB84E" stroke="#668F36" stroke-width="0.42"/>
<rect x="372.79" y="223.61" width="2.28" height="7.87" fill="#5AA6DA" stroke="#3A7EB2" stroke-width="0.42"/>
<rect x="375.28" y="163.36" width="2.28" height="68.12" fill="#FFF682" stroke="#CFC450" stroke-width="0.42"/>
<rect x="377.76" y="170.55" width="2.28" height="60.93" fill="#FFDDFB" stroke="#CC9CCB" stroke-width="0.42"/>
<rect x="380.24" y="186.63" width="2.28" height="44.85" fill="#FFD400" stroke="#CFA400" stroke-width="0.42"/>
<rect x="382.73" y="217.00" width="2.28" height="14.48" fill="#E3B5EF" stroke="#B084C0" stroke-width="0.42"/>
<rect x="387.42" y="191.03" width="2.28" height="40.45" fill="#C8EA66" stroke="#9CBE44" stroke-width="0.42"/>
<rect x="389.90" y="171.65" width="2.28" height="59.83" fill="#C6F3F3" stroke="#84BCC0" stroke-width="0.42"/>
<rect x="392.39" y="185.13" width="2.28" height="46.35" fill="#8BB84E" stroke="#668F36" stroke-width="0.42"/>
<rect x="394.87" y="223.61" width="2.28" height="7.87" fill="#5AA6DA" stroke="#3A7EB2" stroke-width="0.42"/>
<rect x="397.35" y="162.66" width="2.28" height="68.82" fill="#FFF682" stroke="#CFC450" stroke-width="0.42"/>
<rect x="399.84" y="173.17" width="2.28" height="58.31" fill="#FFDDFB" stroke="#CC9CCB" stroke-width="0.42"/>
<rect x="402.32" y="186.24" width="2.28" height="45.24" fill="#FFD400" stroke="#CFA400" stroke-width="0.42"/>
<rect x="404.80" y="216.40" width="2.28" height="15.08" fill="#E3B5EF" stroke="#B084C0" stroke-width="0.42"/>
<path d="M295.70 134.10V236.35H410.50" fill="none" stroke="#333" stroke-width="0.85" stroke-linejoin="miter"/>
<path d="M294.40 231.68H295.70M294.40 208.33H295.70M294.40 184.97H295.70M294.40 161.62H295.70M294.40 138.27H295.70M308.95 236.35V237.75M331.02 236.35V237.75M353.10 236.35V237.75M375.18 236.35V237.75M397.25 236.35V237.75" stroke="#333" stroke-width="0.6" fill="none"/>
<text x="293.50" y="233.77" font-size="5.8" text-anchor="end" fill="#444">0.0</text>
<text x="293.50" y="210.42" font-size="5.8" text-anchor="end" fill="#444">0.2</text>
<text x="293.50" y="187.06" font-size="5.8" text-anchor="end" fill="#444">0.4</text>
<text x="293.50" y="163.71" font-size="5.8" text-anchor="end" fill="#444">0.6</text>
<text x="293.50" y="140.36" font-size="5.8" text-anchor="end" fill="#444">0.8</text>
<text x="308.95" y="242.80" font-size="5.8" text-anchor="middle" fill="#444">15%</text>
<text x="331.02" y="242.80" font-size="5.8" text-anchor="middle" fill="#444">20%</text>
<text x="353.10" y="242.80" font-size="5.8" text-anchor="middle" fill="#444">25%</text>
<text x="375.18" y="242.80" font-size="5.8" text-anchor="middle" fill="#444">30%</text>
<text x="397.25" y="242.80" font-size="5.8" text-anchor="middle" fill="#444">35%</text>
<text x="353.10" y="249.05" font-size="5.95" text-anchor="middle" fill="#222">Eloc</text>
<text transform="translate(283.55 184.97) rotate(-90)" font-size="6.1" text-anchor="middle" fill="#222">Intra-class Correlation</text>
<text x="278.80" y="137.80" font-size="6.0" font-weight="bold" fill="#000">G</text>
</g>
<g id="legend">
<text x="432.4" y="147.0" font-size="4.55" fill="#111">Method</text>
<rect x="432.3" y="149.20" width="7.4" height="7.30" fill="#C8EA66" stroke="#9CBE44" stroke-width="0.3"/>
<text x="442.1" y="154.85" font-size="3.9" fill="#333">BND90</text>
<rect x="432.3" y="156.50" width="7.4" height="7.30" fill="#C6F3F3" stroke="#84BCC0" stroke-width="0.3"/>
<text x="442.1" y="162.15" font-size="3.9" fill="#333">BD90</text>
<rect x="432.3" y="163.80" width="7.4" height="7.30" fill="#8BB84E" stroke="#668F36" stroke-width="0.3"/>
<text x="442.1" y="169.45" font-size="3.9" fill="#333">BND264</text>
<rect x="432.3" y="171.10" width="7.4" height="7.30" fill="#5AA6DA" stroke="#3A7EB2" stroke-width="0.3"/>
<text x="442.1" y="176.75" font-size="3.9" fill="#333">BD264</text>
<rect x="432.3" y="178.40" width="7.4" height="7.30" fill="#FFF682" stroke="#CFC450" stroke-width="0.3"/>
<text x="442.1" y="184.05" font-size="3.9" fill="#333">WND90</text>
<rect x="432.3" y="185.70" width="7.4" height="7.30" fill="#FFDDFB" stroke="#CC9CCB" stroke-width="0.3"/>
<text x="442.1" y="191.35" font-size="3.9" fill="#333">WD90</text>
<rect x="432.3" y="193.00" width="7.4" height="7.30" fill="#FFD400" stroke="#CFA400" stroke-width="0.3"/>
<text x="442.1" y="198.65" font-size="3.9" fill="#333">WND264</text>
<rect x="432.3" y="200.30" width="7.4" height="7.30" fill="#E3B5EF" stroke="#B084C0" stroke-width="0.3"/>
<text x="442.1" y="205.95" font-size="3.9" fill="#333">WD264</text>
</g>
</svg></body></html>
